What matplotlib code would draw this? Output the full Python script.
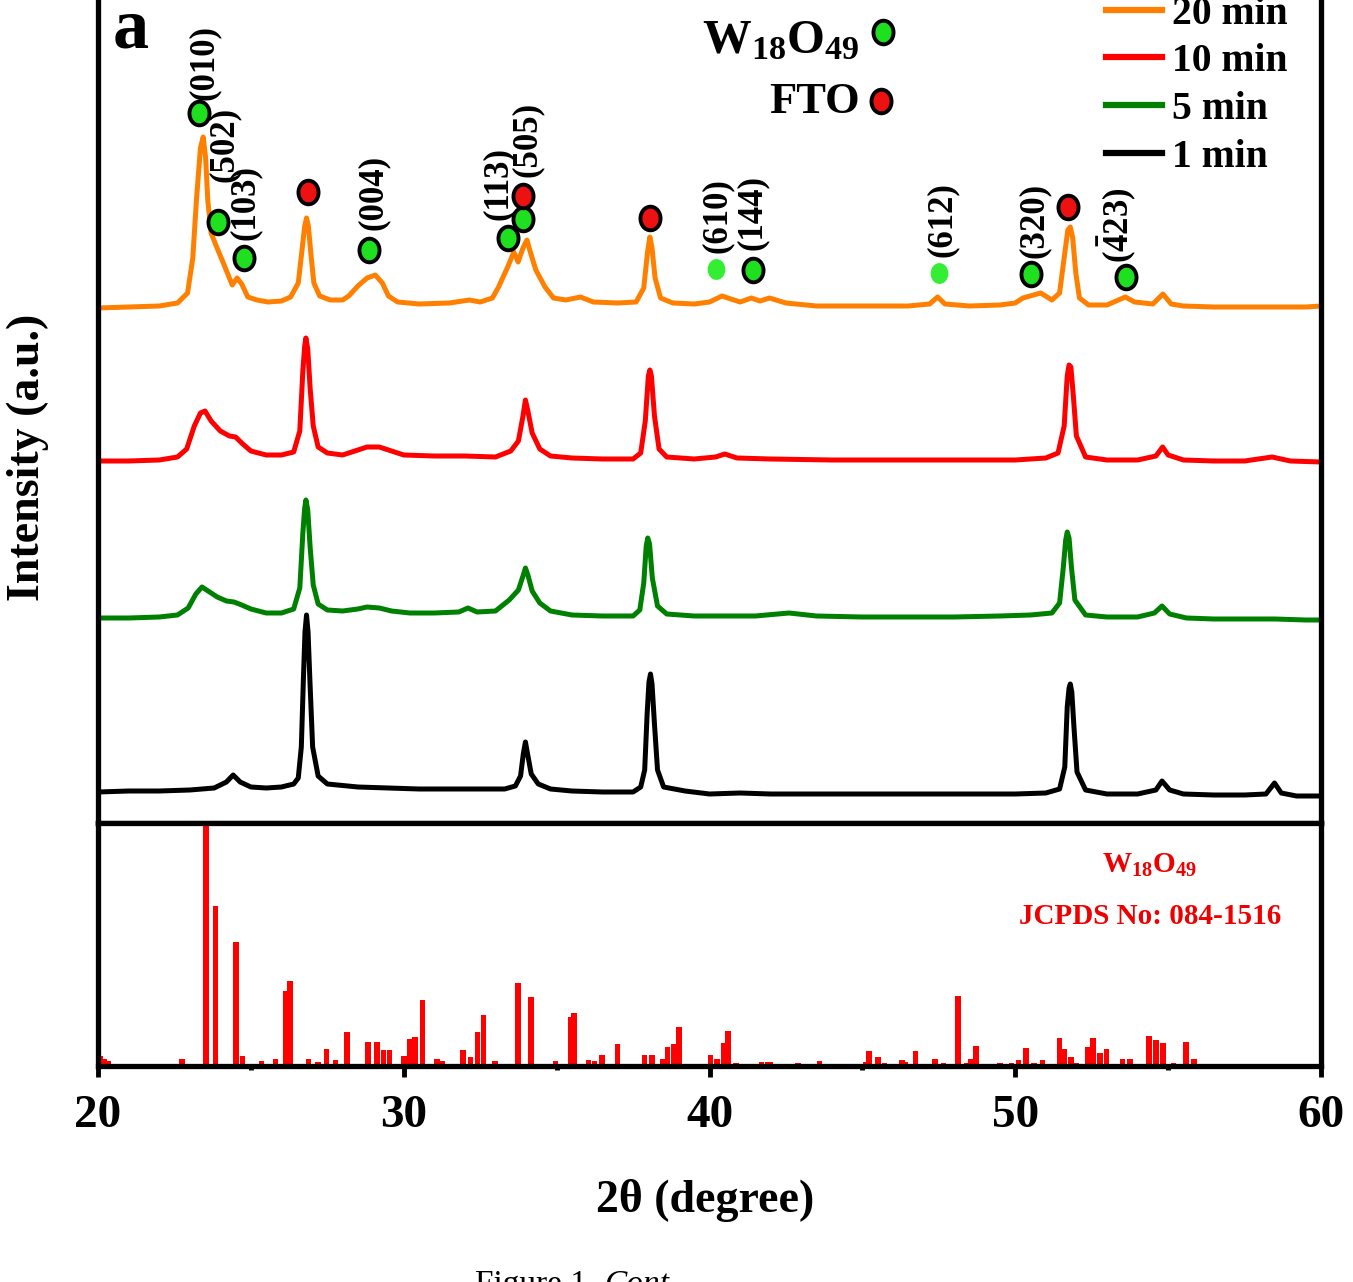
import numpy as np
import matplotlib
matplotlib.use("Agg")
import matplotlib.pyplot as plt
from matplotlib.path import Path
from matplotlib.transforms import Affine2D

plt.rcParams['font.family'] = ['Liberation Serif', 'DejaVu Serif']
plt.rcParams['font.weight'] = 'bold'
plt.rcParams['mathtext.fontset'] = 'custom'
plt.rcParams['mathtext.rm'] = 'Liberation Serif:bold'
plt.rcParams['mathtext.bf'] = 'Liberation Serif:bold'
plt.rcParams['mathtext.default'] = 'bf'

# XRD patterns: (2theta, intensity above own baseline, a.u.)
pat_1min = np.array([
    (20.0, 0), (21.0, 1), (22.0, 1), (23.0, 2), (23.8, 4), (24.2, 10), (24.42, 17), (24.65, 10),
    (25.0, 5), (25.5, 4), (26.0, 5), (26.4, 8), (26.55, 14), (26.65, 45), (26.72, 115), (26.77, 160),
    (26.82, 177), (26.87, 160), (26.93, 112), (27.02, 45), (27.2, 16), (27.5, 8), (28.5, 5), (29.5, 4),
    (30.5, 3), (31.5, 3), (32.5, 3), (33.3, 3), (33.65, 6), (33.82, 16), (33.91, 38), (33.98, 50),
    (34.05, 38), (34.17, 18), (34.4, 8), (34.8, 3), (35.5, 1), (36.5, 0), (37.5, 0), (37.75, 5),
    (37.88, 22), (37.96, 78), (38.02, 110), (38.07, 118), (38.12, 108), (38.2, 68), (38.3, 22),
    (38.5, 5), (39.2, 1), (40.0, -2), (41.0, -1), (42.0, -2), (43.0, -2), (44.0, -2), (45.0, -2),
    (46.0, -2), (47.0, -2), (48.0, -2), (49.0, -2), (50.0, -2), (51.0, -1), (51.45, 3), (51.62, 25),
    (51.7, 85), (51.76, 104), (51.8, 108), (51.85, 100), (51.92, 65), (52.02, 20), (52.3, 2),
    (53.0, -2), (54.0, -2), (54.6, 2), (54.8, 11), (55.05, 2), (55.5, -2), (56.5, -3), (57.5, -3),
    (58.2, -2), (58.48, 9), (58.7, -1), (59.2, -4), (60.0, -4)])

pat_5min = np.array([
    (20.0, 0), (21.0, 0), (22.0, 1), (22.6, 3), (22.95, 10), (23.2, 24), (23.4, 31), (23.6, 27),
    (23.9, 21), (24.2, 17), (24.45, 16), (24.7, 13), (25.0, 9), (25.5, 5), (26.0, 5), (26.4, 9),
    (26.6, 30), (26.7, 85), (26.76, 110), (26.8, 118), (26.86, 108), (26.94, 70), (27.04, 33),
    (27.2, 14), (27.5, 8), (28.0, 7), (28.5, 9), (28.8, 11), (29.2, 10), (29.6, 7), (30.2, 5),
    (31.0, 5), (31.8, 6), (32.1, 10), (32.4, 6), (33.0, 7), (33.45, 18), (33.75, 28), (33.9, 42),
    (33.98, 50), (34.06, 43), (34.2, 27), (34.45, 15), (34.8, 7), (35.5, 3), (36.5, 2), (37.5, 2),
    (37.72, 8), (37.85, 35), (37.93, 72), (37.98, 80), (38.04, 74), (38.13, 40), (38.3, 12),
    (38.6, 4), (39.5, 2), (40.5, 2), (41.5, 2), (42.6, 5), (43.5, 2), (45.0, 1), (46.5, 1),
    (48.0, 1), (49.5, 2), (50.5, 3), (51.2, 5), (51.45, 15), (51.57, 50), (51.65, 78), (51.7, 86),
    (51.76, 80), (51.84, 50), (51.95, 18), (52.3, 3), (53.0, 1), (54.0, 1), (54.55, 5), (54.8, 12),
    (55.05, 4), (55.6, 0), (56.5, -1), (57.5, -1), (58.5, -1), (59.5, -2), (60.0, -2)])

pat_10min = np.array([
    (20.0, 0), (21.0, 0), (22.0, 1), (22.6, 4), (22.9, 12), (23.15, 35), (23.35, 48), (23.5, 50),
    (23.7, 40), (24.0, 30), (24.3, 25), (24.5, 24), (24.7, 18), (25.0, 10), (25.5, 6), (26.0, 6),
    (26.4, 9), (26.6, 30), (26.7, 90), (26.76, 115), (26.8, 123), (26.86, 112), (26.94, 72),
    (27.04, 35), (27.2, 14), (27.5, 8), (28.0, 6), (28.4, 10), (28.8, 14), (29.2, 14), (29.6, 10),
    (30.0, 6), (31.0, 5), (32.0, 5), (33.0, 4), (33.5, 10), (33.75, 20), (33.9, 45), (33.98, 61),
    (34.06, 50), (34.2, 28), (34.45, 12), (34.8, 5), (35.5, 3), (36.5, 2), (37.5, 2), (37.75, 8),
    (37.9, 40), (38.0, 85), (38.05, 91), (38.1, 85), (38.2, 45), (38.35, 12), (38.6, 4), (39.5, 2),
    (40.2, 4), (40.5, 7), (40.9, 3), (42.0, 2), (44.0, 1), (46.0, 1), (48.0, 1), (50.0, 1),
    (51.0, 3), (51.4, 8), (51.6, 35), (51.7, 85), (51.76, 96), (51.82, 94), (51.9, 65), (52.0, 25),
    (52.3, 4), (53.0, 1), (54.0, 1), (54.6, 5), (54.82, 14), (55.0, 6), (55.5, 1), (56.5, 0),
    (57.5, 0), (58.4, 4), (59.0, 0), (60.0, -1)])

pat_20min = np.array([
    (20.0, 0), (21.0, 1), (22.0, 2), (22.6, 5), (22.93, 15), (23.1, 50), (23.22, 108), (23.35, 160),
    (23.44, 171), (23.52, 150), (23.59, 108), (23.7, 75), (23.88, 61), (24.1, 45), (24.39, 23),
    (24.55, 30), (24.7, 24), (24.9, 11), (25.2, 8), (25.56, 6), (26.0, 7), (26.3, 11), (26.55, 25),
    (26.68, 60), (26.76, 82), (26.82, 90), (26.88, 82), (26.96, 55), (27.06, 25), (27.25, 12),
    (27.6, 8), (28.0, 8), (28.2, 12), (28.5, 22), (28.8, 30), (29.07, 33), (29.3, 25), (29.5, 12),
    (29.8, 6), (30.5, 4), (31.5, 5), (32.14, 8), (32.5, 6), (32.9, 10), (33.1, 21), (33.4, 41),
    (33.6, 56), (33.74, 46), (33.9, 60), (34.03, 68), (34.15, 55), (34.32, 38), (34.62, 21),
    (34.9, 10), (35.3, 8), (35.78, 11), (36.2, 6), (37.0, 5), (37.6, 6), (37.85, 20), (37.97, 55),
    (38.05, 71), (38.12, 60), (38.22, 30), (38.4, 10), (38.8, 5), (39.5, 4), (40.0, 6), (40.41, 12),
    (40.7, 9), (41.0, 6), (41.37, 10), (41.65, 7), (41.96, 10), (42.5, 5), (43.5, 2), (44.5, 2),
    (45.5, 2), (46.5, 2), (47.2, 4), (47.46, 11), (47.7, 4), (48.5, 2), (49.5, 3), (50.0, 5),
    (50.25, 10), (50.6, 13), (50.83, 15), (51.2, 8), (51.45, 15), (51.62, 55), (51.72, 78),
    (51.8, 81), (51.88, 70), (51.98, 35), (52.1, 10), (52.4, 3), (53.0, 3), (53.3, 7), (53.6, 11),
    (53.9, 6), (54.5, 4), (54.83, 14), (55.1, 4), (55.5, 2), (56.5, 1), (57.5, 1), (58.5, 1),
    (59.5, 1), (60.0, 2)])

patterns = [pat_1min, pat_5min, pat_10min, pat_20min]
labels = ['1 min', '5 min', '10 min', '20 min']
colors = ['black', '#008000', '#ff0000', '#ff8000']
offsets = [31, 205, 362, 515]

# W18O49 reflections marked on the 20 min pattern
hkl_labels = ['(010)', '(502)', '(103)', '(004)', '(113)', '(505)', '(610)', '(144)',
              '(612)', '(320)', r'$(\bar{4}23)$']
hkl_mark_x = [23.31, 23.93, 24.78, 28.87, 33.42, 33.91, 40.20, 41.41, 47.50, 50.51, 53.62]
hkl_mark_y = [710, 601, 565, 573, 585, 604, 554, 553, 550, 549, 546]
hkl_edge = [True, True, True, True, True, True, False, True, False, True, True]
hkl_text_x = [23.49, 24.14, 24.83, 28.99, 33.08, 34.04, 40.26, 41.41, 47.63, 50.61, 53.32]
hkl_text_y = [723, 641, 583, 593, 603, 646, 570, 573, 566, 565, 560]

# FTO reflections
fto_x = [26.87, 33.91, 38.04, 51.72]
fto_y = [631, 627, 605, 616]

# JCPDS 084-1516 stick pattern (relative intensity)
ref_tt = [20.07, 20.2, 20.35, 20.99, 21.47, 22.75, 23.53, 23.84, 24.52, 24.72, 25.35, 25.8,
          26.14, 26.28, 26.89, 27.2, 27.47, 27.77, 28.14, 28.83, 29.13, 29.33, 29.53, 30.01,
          30.18, 30.37, 30.62, 31.09, 31.27, 31.93, 32.18, 32.41, 32.61, 32.99, 33.74, 34.17,
          34.96, 35.47, 35.57, 36.04, 36.24, 36.48, 36.99, 37.87, 38.12, 38.48, 38.62, 38.82,
          39.0, 39.23, 40.04, 40.25, 40.45, 40.61, 40.86, 41.7, 41.9, 42.0, 42.9, 43.6, 43.81,
          45.1, 45.21, 45.51, 45.72, 46.29, 46.4, 46.74, 47.08, 47.38, 47.66, 48.13, 48.4, 48.53,
          48.71, 49.5, 49.87, 50.1, 50.35, 50.62, 50.89, 51.44, 51.6, 51.82, 51.98, 52.36, 52.55,
          52.77, 52.98, 53.25, 53.51, 53.75, 54.0, 54.38, 54.61, 54.84, 55.18, 55.59, 55.84]
ref_I = [0.04, 0.03, 0.02, 0.01, 0.01, 0.03, 1.3, 0.66, 0.51, 0.04, 0.02, 0.03,
         0.31, 0.35, 0.03, 0.015, 0.07, 0.025, 0.14, 0.10, 0.10, 0.066, 0.066, 0.04,
         0.11, 0.12, 0.27, 0.03, 0.02, 0.066, 0.036, 0.14, 0.21, 0.02, 0.34, 0.285,
         0.02, 0.20, 0.22, 0.025, 0.02, 0.045, 0.09, 0.045, 0.045, 0.03, 0.077, 0.09,
         0.16, 0.01, 0.045, 0.027, 0.096, 0.145, 0.014, 0.018, 0.018, 0.018, 0.014, 0.022, 0.01,
         0.018, 0.063, 0.036, 0.014, 0.025, 0.018, 0.063, 0.01, 0.03, 0.014, 0.29, 0.014, 0.029,
         0.082, 0.014, 0.014, 0.025, 0.073, 0.014, 0.025, 0.114, 0.069, 0.036, 0.014, 0.08, 0.114,
         0.052, 0.069, 0.01, 0.03, 0.03, 0.01, 0.123, 0.107, 0.093, 0.014, 0.1, 0.03]

W, H = 1353, 1282
fig = plt.figure(figsize=(W / 100, H / 100), dpi=100)
ax1 = fig.add_axes([98 / W, (H - 823) / H, 1223 / W, 853 / H])
ax2 = fig.add_axes([98 / W, (H - 1066) / H, 1223 / W, 243 / H])

ell = Path.unit_circle().transformed(Affine2D().scale(0.85, 1.0))

lines = []
for pat, lab, col, off in zip(patterns, labels, colors, offsets):
    ln, = ax1.plot(pat[:, 0], pat[:, 1] + off, color=col, lw=3.6, label=lab,
                   solid_joinstyle='round')
    lines.append(ln)

for lab, mx, my, ed, tx, ty in zip(hkl_labels, hkl_mark_x, hkl_mark_y, hkl_edge,
                                   hkl_text_x, hkl_text_y):
    if ed:
        ax1.plot(mx, my, marker=ell, ms=17, mfc='#1fe01f', mec='black', mew=2.8, ls='none')
    else:
        ax1.plot(mx, my, marker=ell, ms=15, mfc='#33ee33', mec='none', ls='none')
    ax1.text(tx, ty, lab, rotation=90, ha='center', va='bottom', fontsize=25)

ax1.plot(fto_x, fto_y, marker=ell, ms=17, mfc='#ee1111', mec='black', mew=2.8, ls='none')

# key for the symbols
ax1.plot(45.66, 791, marker=ell, ms=17, mfc='#1fe01f', mec='black', mew=2.8, ls='none')
ax1.plot(45.6, 722, marker=ell, ms=17, mfc='#ee1111', mec='black', mew=2.8, ls='none')
ax1.text(44.9, 782, r'W$_{18}$O$_{49}$', ha='right', va='center', fontsize=35)
ax1.text(44.9, 721, 'FTO', ha='right', va='center', fontsize=32)
ax1.text(20.49, 775, 'a', ha='left', va='baseline', fontsize=52)

leg = ax1.legend(handles=lines[::-1], loc='upper left', bbox_to_anchor=(0.824, 0.97),
                 frameon=False, fontsize=28.5, handlelength=1.42, handletextpad=0.26,
                 labelspacing=0.27, borderpad=0, borderaxespad=0)
for h in leg.legend_handles:
    h.set_linewidth(4.5)

ax1.set_xlim(20, 60)
ax1.set_ylim(0, 853)
ax1.set_yticks([])
ax1.set_xticks(np.arange(20, 61, 10))
ax1.set_xticks(np.arange(25, 60, 10), minor=True)
ax1.tick_params(axis='x', which='major', direction='out', length=8, width=3.5, labelbottom=False)
ax1.tick_params(axis='x', which='minor', direction='out', length=3, width=3.5)
ax1.spines['top'].set_visible(False)
for s in ['left', 'right', 'bottom']:
    ax1.spines[s].set_linewidth(3.8)

ax2.bar(ref_tt, ref_I, width=0.18, color='#ff0000', linewidth=0)
ax2.set_xlim(20, 60)
ax2.set_ylim(0, 1.0)
ax2.set_yticks([])
ax2.set_xticks(np.arange(20, 61, 10))
ax2.set_xticks(np.arange(25, 60, 10), minor=True)
ax2.tick_params(axis='x', which='major', direction='out', length=8, width=3.5,
                labelsize=34, pad=13)
ax2.tick_params(axis='x', which='minor', direction='out', length=3, width=3.5)
for s in ['left', 'right', 'bottom', 'top']:
    ax2.spines[s].set_linewidth(3.8)
ax2.text(0.86, 0.827, r'W$_{18}$O$_{49}$', transform=ax2.transAxes, ha='center',
         va='center', fontsize=21, color='#ee0000')
ax2.text(0.86, 0.617, 'JCPDS No: 084-1516', transform=ax2.transAxes, ha='center',
         va='center', fontsize=21, color='#ee0000')

fig.text(705 / W, 1 - 1200 / H, '2θ (degree)', ha='center', va='center', fontsize=33)
fig.text(28 / W, 1 - 457 / H, 'Intensity (a.u.)', ha='center', va='center',
         rotation=90, fontsize=33)
fig.text(475 / W, 1 - 1293 / H, 'Figure 1.', ha='left', va='baseline', fontsize=24,
         fontweight='normal')
fig.text(604 / W, 1 - 1293 / H, 'Cont.', ha='left', va='baseline', fontsize=24,
         fontweight='normal', style='italic')

fig.savefig('out.png', dpi=100)
